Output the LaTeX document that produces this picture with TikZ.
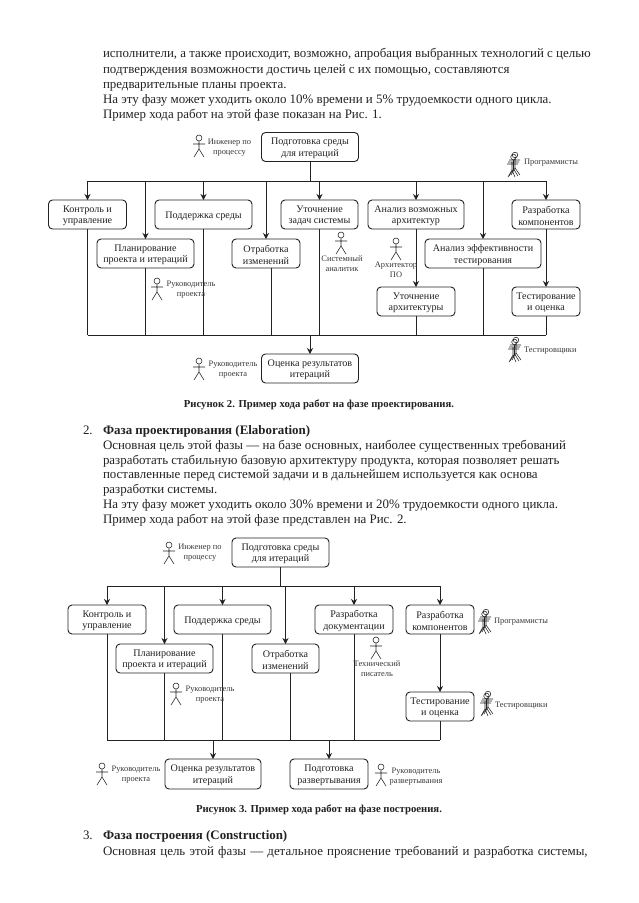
\documentclass[tikz,border=0pt]{standalone}
\usepackage{fontspec}
\setmainfont{Liberation Serif}
\usetikzlibrary{arrows.meta}
\definecolor{ink}{HTML}{222222}
\tikzset{
  x=1pt,y=-1pt,
  every node/.style={text=ink,inner sep=0pt,outer sep=0pt},
  taskbox/.style={draw=ink,line width=0.9pt,rounded corners=4pt},
  tasktext/.style={align=center,font=\fontsize{10.1}{11.7}\selectfont},
  line/.style={draw=ink,line width=0.9pt},
  flow/.style={line,-{Stealth[length=6pt,width=6pt]}},
  role/.style={align=center,font=\fontsize{8.4}{10.2}\selectfont,text=ink!90},
  body/.style={anchor=base west,font=\fontsize{12.93}{15}\selectfont},
  bodyb/.style={anchor=base west,font=\fontsize{12.93}{15}\selectfont\bfseries},
  caption/.style={anchor=base,font=\fontsize{10.7}{12}\selectfont\bfseries},
  stick/.style={draw=ink,line width=0.55pt},
  actor/.pic={
    \draw[stick] (0,3) circle (3)
      (0,6)--(0,14) (-6,9)--(6,9) (0,14)--(-5,22) (0,14)--(5,22);
  },
  crowd/.pic={
    \draw[stick] (3,3) circle (2.8)
      (3,6)--(3,16) (-3,8)--(8,8) (3,16)--(-1,23) (3,16)--(8,23);
    \draw[stick] (1.5,5) circle (2.8)
      (1.5,8)--(1.5,17) (-4,10)--(7,10) (1.5,17)--(-3,24) (1.5,17)--(6,24);
    \draw[stick] (0,10)--(0,18) (-5,12)--(6,12) (0,18)--(-4,25) (0,18)--(3,25);
  }
}
\newcommand{\task}[6]{\node[taskbox,minimum width=#4 pt,minimum height=#5 pt] (#1) at (#2,#3) {};
  \node[tasktext] (#1t) at ([yshift=-1.3pt]#1.center) {#6};}
\begin{document}
\begin{tikzpicture}
\useasboundingbox (0,0) rectangle (638,903);
\fill[white] (0,0) rectangle (638,903);
% body text
\node[body] (l1) at (103,57.5) {исполнители, а также происходит, возможно, апробация выбранных технологий с целью};
\node[body] (l2) at (103,73) {подтверждения возможности достичь целей с их помощью, составляются};
\node[body] (l3) at (103,88) {предварительные планы проекта.};
\node[body] (l4) at (103,103) {На эту фазу может уходить около 10\% времени и 5\% трудоемкости одного цикла.};
\node[body] (l5) at (103,118) {Пример хода работ на этой фазе показан на Рис. 1.};
\node[caption] (c2) at (319,407) {Рисунок 2. Пример хода работ на фазе проектирования.};
\node[body] (n2) at (83,434) {2.};
\node[bodyb] (h2) at (103,434) {Фаза проектирования (Elaboration)};
\node[body] (m1) at (103,449) {Основная цель этой фазы — на базе основных, наиболее существенных требований};
\node[body] (m2) at (103,464) {разработать стабильную базовую архитектуру продукта, которая позволяет решать};
\node[body] (m3) at (103,478) {поставленные перед системой задачи и в дальнейшем используется как основа};
\node[body] (m4) at (103,493) {разработки системы.};
\node[body] (m5) at (103,508) {На эту фазу может уходить около 30\% времени и 20\% трудоемкости одного цикла.};
\node[body] (m6) at (103,523) {Пример хода работ на этой фазе представлен на Рис. 2.};
\node[caption] (c3) at (319,812) {Рисунок 3. Пример хода работ на фазе построения.};
\node[body] (n3) at (83,839) {3.};
\node[bodyb] (h3) at (103,839) {Фаза построения (Construction)};
\node[body] (e1) at (103,855) {\spaceskip=4.2pt Основная цель этой фазы — детальное прояснение требований и разработка системы,};

% ===== Figure 2 =====
\task{a0}{310}{147}{97}{29}{Подготовка среды\\для итераций}
\task{a1}{87.5}{214.5}{78}{29}{Контроль и\\управление}
\task{a2}{203.5}{214.5}{97}{29}{Поддержка среды}
\task{a3}{319.5}{214.5}{77}{29}{Уточнение\\задач системы}
\task{a4}{416}{214.5}{96}{29}{Анализ возможных\\архитектур}
\task{a5}{546}{214.5}{68}{29}{Разработка\\компонентов}
\task{a6}{145.5}{253.5}{97}{29}{Планирование\\проекта и итераций}
\task{a7}{266}{253.5}{68}{29}{Отработка\\изменений}
\task{a8}{483}{253.5}{116}{29}{Анализ эффективности\\тестирования}
\task{a9}{416}{301.5}{78}{29}{Уточнение\\архитектуры}
\task{a10}{546}{301.5}{68}{29}{Тестирование\\и оценка}
\task{a11}{310}{368.5}{97}{29}{Оценка результатов\\итераций}
\coordinate (atop) at (310,181);
\coordinate (abot) at (310,335);
\draw[line] (a0.south) -- (atop);
\draw[line] (a1.north |- atop) -- (a5.north |- atop);
\draw[line] (a1.south |- abot) -- (a10.south |- abot);
\foreach \n in {a1,a2,a3,a4,a5,a6,a7,a8}{\draw[flow] (\n.north |- atop) -- (\n.north);}
\foreach \n in {a1,a2,a3,a6,a8,a9,a10}{\draw[line] (\n.south) -- (\n.south |- abot);}
\draw[line] ([xshift=5pt]a7.south) -- ([xshift=5pt]a7.south |- abot);
\draw[flow] (a4.south) -- (a9.north);
\draw[flow] (a5.south) -- (a10.north);
\draw[flow] (abot) -- (a11.north);
\pic at (199,135) {actor};
\node[role] (ra1) at (229.5,147.5) {Инженер по\\процессу};
\pic at (157,278) {actor};
\node[role] (ra2) at (191,289.5) {Руководитель\\проекта};
\pic at (199,358) {actor};
\node[role] (ra3) at (233,369.5) {Руководитель\\проекта};
\pic at (341,232) {actor};
\node[role] (ra4) at (342,263.5) {Системный\\аналитик};
\pic at (396,238) {actor};
\node[role] (ra5) at (396,270) {Архитектор\\ПО};
\pic at (512,152) {crowd};
\node[role,anchor=west] (ra6) at (524,163) {Программисты};
\pic at (513,337) {crowd};
\node[role,anchor=west] (ra7) at (524,350.5) {Тестировщики};

% ===== Figure 3 =====
\task{b0}{280.5}{552.5}{97}{29}{Подготовка среды\\для итераций}
\task{b1}{107}{619.5}{78}{29}{Контроль и\\управление}
\task{b2}{222.5}{619.5}{97}{29}{Поддержка среды}
\task{b3}{354}{619.5}{78}{29}{Разработка\\документации}
\task{b4}{440}{619.5}{68}{29}{Разработка\\компонентов}
\task{b5}{164.5}{658.5}{97}{29}{Планирование\\проекта и итераций}
\task{b6}{285.5}{658.5}{67}{29}{Отработка\\изменений}
\task{b7}{440}{706.5}{68}{29}{Тестирование\\и оценка}
\task{b8}{213}{774}{96}{30}{Оценка результатов\\итераций}
\task{b9}{329}{774}{78}{30}{Подготовка\\развертывания}
\coordinate (btop) at (280.5,586);
\coordinate (bbot) at (280.5,740);
\draw[line] (b0.south) -- (btop);
\draw[line] (b1.north |- btop) -- (b4.north |- btop);
\draw[line] (b1.south |- bbot) -- (b7.south |- bbot);
\foreach \n in {b1,b2,b3,b4,b5,b6}{\draw[flow] (\n.north |- btop) -- (\n.north);}
\foreach \n in {b1,b2,b3,b5,b7}{\draw[line] (\n.south) -- (\n.south |- bbot);}
\draw[line] ([xshift=4.5pt]b6.south) -- ([xshift=4.5pt]b6.south |- bbot);
\draw[flow] (b4.south) -- (b7.north);
\draw[flow] (b8.north |- bbot) -- (b8.north);
\draw[flow] (b9.north |- bbot) -- (b9.north);
\pic at (169,542) {actor};
\node[role] (rb1) at (200,553) {Инженер по\\процессу};
\pic at (176,683) {actor};
\node[role] (rb2) at (210,694.5) {Руководитель\\проекта};
\pic at (102,763) {actor};
\node[role] (rb3) at (136,774.5) {Руководитель\\проекта};
\pic at (376,637) {actor};
\node[role] (rb4) at (377,668.5) {Технический\\писатель};
\pic at (483,609) {crowd};
\node[role,anchor=west] (rb5) at (494,621.5) {Программисты};
\pic at (485,691) {crowd};
\node[role,anchor=west] (rb6) at (495,705.5) {Тестировщики};
\pic at (381,764) {actor};
\node[role] (rb7) at (416,776.5) {Руководитель\\развертывания};
\end{tikzpicture}
\end{document}
